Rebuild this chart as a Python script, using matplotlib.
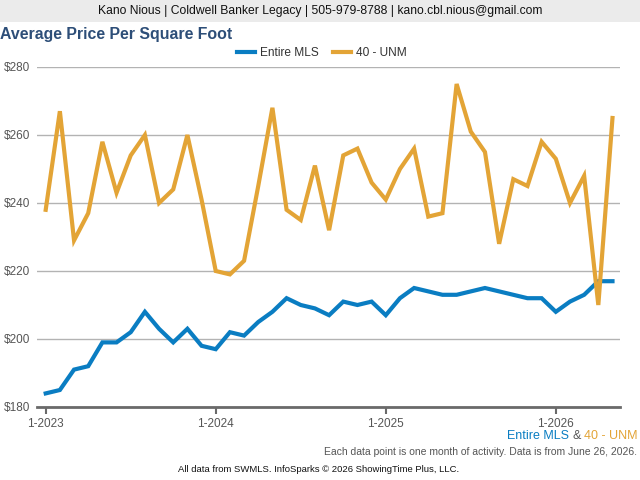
import matplotlib
matplotlib.use("Agg")
import matplotlib.pyplot as plt
from matplotlib.patches import Rectangle

plt.rcParams['font.family'] = ['Liberation Sans', 'DejaVu Sans']

months = list(range(41))  # 1-2023 .. 5-2026
entire_mls = [184, 185, 191, 192, 199, 199, 202, 208, 203, 199, 203, 198,
              197, 202, 201, 205, 208, 212, 210, 209, 207, 211, 210, 211,
              207, 212, 215, 214, 213, 213, 214, 215, 214, 213, 212, 212,
              208, 211, 213, 217, 217]
unm_40 = [238, 267, 229, 237, 258, 243, 254, 260, 240, 244, 260, 241,
          220, 219, 223, 245, 268, 238, 235, 251, 232, 254, 256, 246,
          241, 250, 256, 236, 237, 275, 261, 255, 228, 247, 245, 258,
          253, 240, 248, 210, 265]
xtick_pos = [0, 12, 24, 36]
xtick_labels = ["1-2023", "1-2024", "1-2025", "1-2026"]
ytick_vals = [180, 200, 220, 240, 260, 280]
ytick_labels = ["$180", "$200", "$220", "$240", "$260", "$280"]

BLUE = "#0a7dc2"
ORANGE = "#e3a436"
GRAY = "#555555"

fig = plt.figure(figsize=(6.4, 4.8), dpi=100)
fig.patches.append(Rectangle((0, 1 - 22/480), 1, 22/480, transform=fig.transFigure,
                             facecolor="#ebebeb", edgecolor="none", zorder=0))
fig.text(320/640, 1 - 11/480, "Kano Nious | Coldwell Banker Legacy | 505-979-8788 | kano.cbl.nious@gmail.com",
         ha="center", va="center", fontsize=8.75, color="#111111")
fig.text(0/640, 1 - 34/480, "Average Price Per Square Foot", ha="left", va="center",
         fontsize=11.4, fontweight="bold", color="#2d4e78")

ax = fig.add_axes([37/640, 1 - 407/480, (620 - 37)/640, (407 - 67)/480])
ax.plot(months, entire_mls, color=BLUE, lw=3, label="Entire MLS", solid_joinstyle="miter", zorder=3)
ax.plot(months, unm_40, color=ORANGE, lw=3, label="40 - UNM", solid_joinstyle="miter", zorder=3)

ax.set_xlim(-0.614, 40.53)
ax.set_ylim(180, 280)
ax.set_yticks(ytick_vals)
ax.set_yticklabels(ytick_labels)
ax.set_xticks(xtick_pos)
ax.set_xticklabels(xtick_labels)
ax.grid(axis="y", color="#b3b3b3", lw=1)
ax.set_axisbelow(True)
for s in ["top", "right", "left"]:
    ax.spines[s].set_visible(False)
ax.spines["bottom"].set_color("#6a6a6a")
ax.spines["bottom"].set_linewidth(2)
ax.tick_params(axis="y", length=0, pad=5, labelsize=8.5, labelcolor=GRAY)
ax.tick_params(axis="x", length=5, width=1.5, color="#6a6a6a", pad=3, labelsize=8.5, labelcolor=GRAY)

leg = fig.legend(loc="center", bbox_to_anchor=(322/640, 1 - 53/480), ncol=2, frameon=False,
                 fontsize=8.6, handlelength=1.5, handletextpad=0.4, columnspacing=1.2)
for t in leg.get_texts():
    t.set_color("#333333")

# bottom-right series caption
y_cap = 1 - 436/480
t3 = fig.text(638/640, y_cap, "40 - UNM", ha="right", va="center", fontsize=9, color=ORANGE)
fig.canvas.draw()
r = fig.canvas.get_renderer()
bb3 = t3.get_window_extent(r)
t2 = fig.text((bb3.x0 - 4) / 640, y_cap, "&", ha="right", va="center", fontsize=9, color=GRAY)
bb2 = t2.get_window_extent(r)
fig.text((bb2.x0 - 3) / 640, y_cap, "Entire MLS", ha="right", va="center", fontsize=9, color=BLUE)

fig.text(637/640, 1 - 452/480, "Each data point is one month of activity. Data is from June 26, 2026.",
         ha="right", va="center", fontsize=7.5, color=GRAY)
fig.text(319/640, 1 - 469/480, "All data from SWMLS. InfoSparks \u00a9 2026 ShowingTime Plus, LLC.",
         ha="center", va="center", fontsize=6.8, color="#111111")

fig.savefig("out.png", dpi=100)
